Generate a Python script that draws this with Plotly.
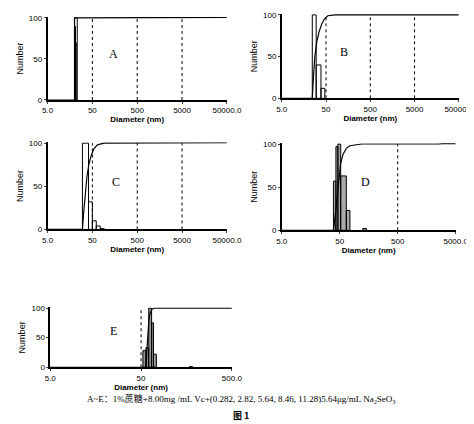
import math
import plotly.graph_objects as go

# ---- 数据----
A_edges = [20, 23]
A_heights = [100]
A_inner_edges = [21, 21.6, 22.3]
A_inner_heights = [90, 70]
A_cum_x = [5, 20, 20, 400, 500, 50000]
A_cum_y = [0, 0, 100, 100, 100.5, 100.5]

B_edges = [24.5, 30, 38.5, 47]
B_heights = [100, 40, 12]
B_cum_x = [5, 24.5, 26, 28, 31, 35, 40, 46, 55, 80, 50000]
B_cum_y = [0, 0, 25, 50, 68, 80, 89, 95, 99, 100, 100]

C_edges = [30, 41, 50, 61, 75, 92]
C_heights = [100, 32, 10, 4, 1]
C_cum_x = [5, 30, 32, 35, 38, 42, 48, 55, 65, 90, 1000, 1200, 50000]
C_cum_y = [0, 0, 20, 45, 62, 76, 87, 94, 98, 100, 100, 100.5, 100.5]

D_edges = [39, 43, 46.5, 52, 65, 75]
D_heights = [57, 97, 100, 63, 23]
D_bump_edges = [125, 145]
D_bump_heights = [2]
D_cum_x = [5, 39, 42, 45, 48, 52, 57, 65, 75, 120, 2500, 3000, 5000]
D_cum_y = [0, 0, 18, 40, 60, 78, 88, 95, 98, 100, 100, 100.5, 100.5]

E_edges = [52.4, 56.5, 60.7, 65.3, 68.5, 73.7]
E_heights = [28, 33, 100, 75, 22]
E_bump_edges = [170, 185]
E_bump_heights = [1]
E_cum_x = [5, 57, 58, 59.5, 61, 62.5, 64, 66, 70, 500]
E_cum_y = [0, 0, 30, 60, 80, 90, 95, 98, 100, 100]

panels = [
    # 名称, 直方图, 累积曲线, 虚线, x范围, 刻度, x域, y域, 字母位置(domain)
    ("A", [(A_edges, A_heights, "white"), (A_inner_edges, A_inner_heights, "#999999")],
     (A_cum_x, A_cum_y), [50, 500, 5000], (5, 50000),
     [5, 50, 500, 5000, 50000], ["5.0", "50", "500", "5000", "50000.0"],
     [0.074, 0.470], [0.788, 0.988], (0.37, 0.55)),
    ("B", [(B_edges, B_heights, "white")],
     (B_cum_x, B_cum_y), [50, 500, 5000], (5, 50000),
     [5, 50, 500, 5000, 50000], ["5.0", "50", "500", "5000", "50000.0"],
     [0.591, 0.982], [0.792, 0.995], (0.35, 0.55)),
    ("C", [(C_edges, C_heights, "white")],
     (C_cum_x, C_cum_y), [50, 500, 5000], (5, 50000),
     [5, 50, 500, 5000, 50000], ["5.0", "50", "500", "5000", "50000.0"],
     [0.074, 0.470], [0.476, 0.686], (0.38, 0.55)),
    ("D", [(D_edges, D_heights, "#aaaaaa"), (D_bump_edges, D_bump_heights, "#aaaaaa")],
     (D_cum_x, D_cum_y), [500], (5, 5000),
     [5, 50, 500, 5000], ["5.0", "50", "500", "5000.0"],
     [0.591, 0.975], [0.474, 0.684], (0.48, 0.55)),
    ("E", [(E_edges, E_heights, "#999999"), (E_bump_edges, E_bump_heights, "#999999")],
     (E_cum_x, E_cum_y), [50], (5, 500),
     [5, 50, 500], ["5.0", "50", "500.0"],
     [0.080, 0.481], [0.144, 0.288], (0.35, 0.75)),
]


def bar_outline(edges, heights):
    xs, ys = [], []
    for i, h in enumerate(heights):
        e0, e1 = edges[i], edges[i + 1]
        xs += [e0, e0, e1, e1, e0, None]
        ys += [0, h, h, 0, 0, None]
    return xs, ys


fig = go.Figure()
font_ax = dict(family="Arial, Liberation Sans, sans-serif", size=8, color="black")

for i, (name, hists, cum, dashes, xr, tv, tt, xd, yd, lpos) in enumerate(panels):
    n = "" if i == 0 else str(i + 1)
    xa, ya = "x" + n, "y" + n
    for edges, heights, col in hists:
        bx, by = bar_outline(edges, heights)
        fig.add_trace(go.Scatter(x=bx, y=by, xaxis=xa, yaxis=ya, mode="lines",
                                 fill="toself", fillcolor=col,
                                 line=dict(color="black", width=1), hoverinfo="skip"))
    for d in dashes:
        fig.add_trace(go.Scatter(x=[d, d], y=[0, 100], xaxis=xa, yaxis=ya, mode="lines",
                                 line=dict(color="black", width=1, dash="dot")))
    fig.add_trace(go.Scatter(x=cum[0], y=cum[1], xaxis=xa, yaxis=ya, mode="lines",
                             line=dict(color="black", width=1.2)))
    fig.layout["xaxis" + n] = dict(
        type="log", range=[math.log10(xr[0]), math.log10(xr[1])], domain=xd,
        anchor=ya, tickvals=tv, ticktext=tt, showgrid=False, zeroline=False,
        showline=True, linecolor="black", linewidth=1.5, ticks="outside",
        ticklen=2, tickfont=font_ax,
        title=dict(text="<b>Diameter (nm)</b>",
                   font=dict(size=8, family="Arial", color="black"), standoff=2))
    fig.layout["yaxis" + n] = dict(
        range=[0, 101], domain=yd, anchor=xa, tickvals=[0, 50, 100],
        showgrid=False, zeroline=False, showline=True, linecolor="black",
        linewidth=1.5, ticks="outside", ticklen=2, tickfont=font_ax,
        title=dict(text="Number", font=dict(size=9, family="Arial", color="black"),
                   standoff=4))
    fig.add_annotation(text=name, xref=xa + " domain", yref=ya + " domain",
                       x=lpos[0], y=lpos[1], showarrow=False,
                       font=dict(family="Liberation Serif, serif", size=12, color="black"))

fig.add_annotation(
    text="A~E：1%蔗糖+8.00mg /mL Vc+(0.282, 2.82, 5.64, 8.46, 11.28)5.64μg/mL Na<sub>2</sub>SeO<sub>3</sub>",
    xref="paper", yref="paper", x=0.5, y=1 - 404 / 424, showarrow=False,
    font=dict(family="Liberation Serif, Noto Sans CJK SC, serif", size=9, color="black"))
fig.add_annotation(text="<b>图 1</b>", xref="paper", yref="paper", x=0.5, y=1 - 421 / 424,
                   showarrow=False,
                   font=dict(family="Noto Sans CJK SC", size=9, color="black"))

fig.update_layout(width=474, height=424, margin=dict(l=0, r=0, t=0, b=0),
                  showlegend=False, plot_bgcolor="white", paper_bgcolor="white")
fig.write_html("out.html")
